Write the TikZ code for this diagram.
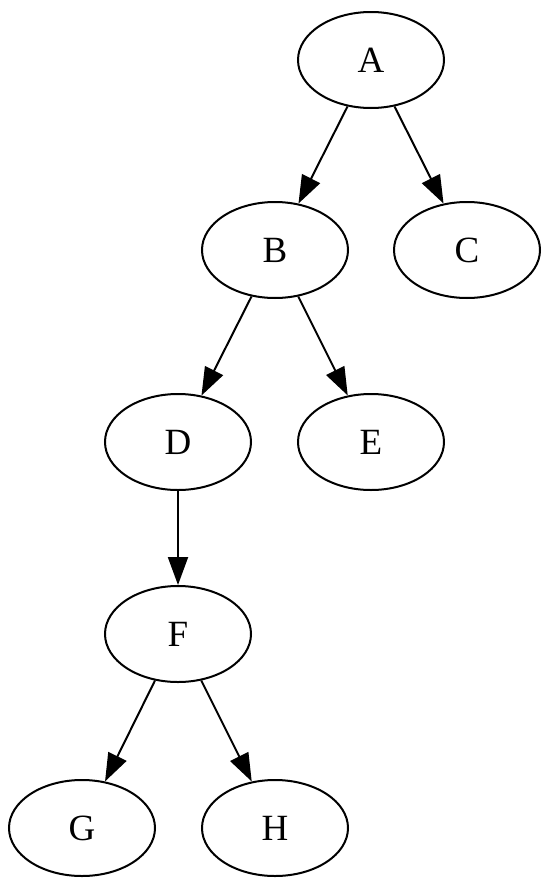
\documentclass[tikz,border=0pt]{standalone}
\usepackage{fontspec}
\setmainfont{Liberation Serif}
\usetikzlibrary{shapes.geometric,arrows.meta}
\begin{document}
\begin{tikzpicture}[x=1pt,y=-1pt,
  treenode/.style={draw, ellipse, line width=2pt, minimum width=146pt, minimum height=96pt, inner sep=0pt, font=\fontsize{37}{40}\selectfont},
  edge/.style={draw, line width=2pt, -{Triangle[length=28pt,width=20pt]}}]
\useasboundingbox (0,0) rectangle (550,886);
\node[treenode] (A) at (371,60) {A};
\node[treenode] (B) at (275,250) {B};
\node[treenode] (C) at (467,250) {C};
\node[treenode] (D) at (178,442) {D};
\node[treenode] (E) at (371,442) {E};
\node[treenode] (F) at (178,634) {F};
\node[treenode] (G) at (82,828) {G};
\node[treenode] (H) at (275,828) {H};
\path[edge] (A) -- (B);
\path[edge] (A) -- (C);
\path[edge] (B) -- (D);
\path[edge] (B) -- (E);
\path[edge] (D) -- (F);
\path[edge] (F) -- (G);
\path[edge] (F) -- (H);
\end{tikzpicture}
\end{document}
